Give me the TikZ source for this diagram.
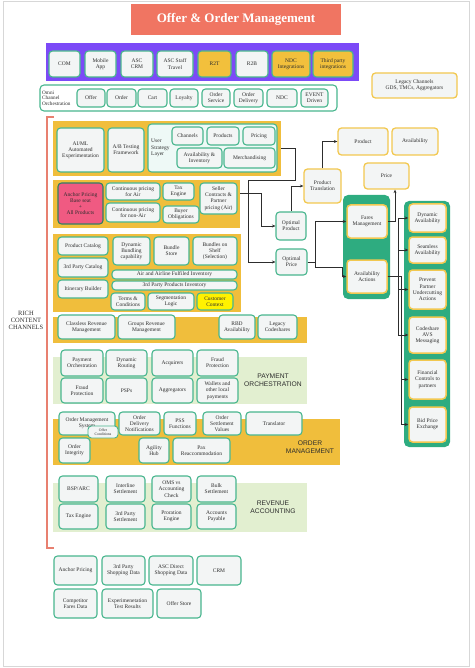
\documentclass[tikz,border=0pt]{standalone}
\usepackage{fontspec}
\setmainfont{Liberation Serif}
\newfontfamily\lsans{Liberation Sans}
\usetikzlibrary{arrows.meta}
\definecolor{gbord}{RGB}{72,182,142}
\definecolor{bfill}{RGB}{243,245,245}
\definecolor{orng}{RGB}{240,190,60}
\definecolor{lgreen}{RGB}{226,239,208}
\definecolor{purp}{RGB}{124,74,247}
\definecolor{titl}{RGB}{240,117,98}
\definecolor{ybord}{RGB}{242,200,80}
\definecolor{ygold}{RGB}{242,192,60}
\definecolor{pinkc}{RGB}{240,90,130}
\definecolor{dgreen}{RGB}{46,172,128}
\definecolor{brack}{RGB}{232,128,112}
\definecolor{txt}{RGB}{45,45,45}
\definecolor{frame}{RGB}{215,215,215}
\definecolor{mint}{RGB}{238,249,246}
\newcommand\Bx[7][box]{\node[#1,minimum width={#5-#3},minimum height={#6-#4}] (#2) at ({(#3+#5)/2},{(#4+#6)/2}) {#7};}
\tikzset{
  box/.style={draw=gbord, line width=1.1pt, fill=bfill, rounded corners=3.5pt, inner sep=0pt, align=center, font=\fontsize{5.5}{6.2}\selectfont, text=txt},
  ybox/.style={box, draw=ybord, line width=1.3pt},
  band/.style={draw=none, inner sep=0pt},
  lbl/.style={font=\lsans\fontsize{6.7}{8}\selectfont, text=txt, align=center},
  arr/.style={draw=txt, line width=0.6pt, -{Stealth[length=3.5pt,width=3pt]}},
}
\begin{document}
\begin{tikzpicture}[x=1pt,y=-1pt]
\useasboundingbox (0,0) rectangle (474,668);
\draw[frame, line width=1pt] (3,2) rectangle (469,666);
% title
\Bx[band,fill=titl,font=\bfseries\fontsize{13}{15}\selectfont,text=white]{title}{131}{4}{341}{35}{Offer \& Order Management}
% channels
\Bx[band,fill=purp]{chan}{46}{43}{359}{81}{}
\Bx{com}{49}{51}{80}{77}{COM}
\Bx{mob}{85}{51}{116}{77}{Mobile\\App}
\Bx{asccrm}{121}{51}{153}{77}{ASC\\CRM}
\Bx{ascst}{157}{51}{193}{77}{ASC Staff\\Travel}
\Bx[box,fill=ygold]{rtt}{198}{51}{231}{77}{R2T}
\Bx{rtb}{236}{51}{268}{77}{R2B}
\Bx[box,fill=ygold]{ndci}{272}{51}{310}{77}{NDC\\Integrations}
\Bx[box,fill=ygold]{tpi}{313}{51}{353}{77}{Third party\\integrations}
\Bx[ybox,fill=bfill]{legacy}{372}{73}{457}{98}{Legacy Channels\\GDS, TMCs, Aggregators}
% omni
\Bx[box,fill=white,rounded corners=4pt]{omni}{40}{85}{337}{111}{}
\node[anchor=west,align=left,font=\fontsize{5.2}{5.6}\selectfont,text=txt,inner sep=0pt] (omnit) at (42,98) {Omni\\Channel\\Orchestration};
\Bx{offer}{77}{89}{105}{107}{Offer}
\Bx{order}{107}{89}{136}{107}{Order}
\Bx{cart}{138}{89}{167}{107}{Cart}
\Bx{loyal}{170}{89}{198}{107}{Loyalty}
\Bx{osvc}{202}{89}{230}{107}{Order\\Service}
\Bx{odel}{234}{89}{263}{107}{Order\\Delivery}
\Bx{ndc}{267}{89}{297}{107}{NDC}
\Bx{event}{301}{89}{328}{107}{EVENT\\Driven}
% bracket
\draw[brack, line width=1.2pt] (54,117) -- (47,117) -- (47,548) -- (54,548);
\node[align=center,font=\fontsize{6.5}{7}\selectfont,text=txt,inner sep=0pt] (rcc) at (26,320) {RICH\\CONTENT\\CHANNELS};
% section 1
\Bx[band,fill=orng]{s1}{53}{121}{281}{176}{}
\Bx{aiml}{57}{128}{104}{172}{AI/ML\\Automated\\Experimentation}
\Bx{ab}{108}{128}{144}{172}{A/B Testing\\Framework}
\Bx[box,fill=mint]{usl}{148}{124}{277}{172}{}
\node[anchor=west,align=left,font=\fontsize{5.5}{6.5}\selectfont,text=txt,inner sep=0pt] (uslt) at (151,148) {User\\Strategy\\Layer};
\Bx{chn}{172}{127}{203}{145}{Channels}
\Bx{prd}{207}{127}{239}{145}{Products}
\Bx{prc}{243}{127}{275}{145}{Pricing}
\Bx{avi}{177}{148}{222}{168}{Availability \&\\Inventory}
\Bx{mer}{224}{148}{275}{168}{Merchandising}
% section 2
\Bx[band,fill=orng]{s2}{53}{180}{240}{228}{}
\Bx[box,fill=pinkc,draw=gbord!70!black]{anchor}{58}{183}{103}{224}{Anchor Pricing\\Base seat\\+\\All Products}
\Bx{cpa}{106}{183}{160}{200}{Continuous pricing\\for Air}
\Bx{cpn}{106}{203}{160}{222}{Continuous pricing\\for non-Air}
\Bx{tax}{163}{183}{194}{200}{Tax\\Engine}
\Bx{buyer}{163}{206}{199}{223}{Buyer\\Obligations}
\Bx{seller}{200}{183}{237}{214}{Seller\\Contracts \&\\Partner\\pricing (Air)}
% section 3
\Bx[band,fill=orng]{s3}{53}{234}{241}{312}{}
\Bx{pcat}{58}{237}{108}{255}{Product Catalog}
\Bx{tpcat}{58}{258}{108}{277}{3rd Party Catalog}
\Bx{itin}{58}{280}{108}{298}{Itinerary Builder}
\Bx{dbc}{113}{237}{150}{265}{Dynamic\\Bundling\\capability}
\Bx{bstore}{154}{237}{189}{265}{Bundle\\Store}
\Bx{bshelf}{193}{237}{237}{265}{Bundles on\\Shelf\\(Selection)}
\Bx{afi}{112}{270}{237}{279}{Air and Airline Fulfiled Inventory}
\Bx{tppi}{112}{281}{237}{290}{3rd Party Products Inventory}
\Bx{terms}{111}{293}{145}{310}{Terms \&\\Conditions}
\Bx{seg}{148}{293}{194}{310}{Segmentation\\Logic}
\Bx[box,fill=yellow]{cctx}{197}{293}{233}{310}{Customer\\Context}
% section 4
\Bx[band,fill=orng]{s4}{53}{317}{307}{343}{}
\Bx{crm1}{58}{315}{115}{339}{Classless Revenue\\Management}
\Bx{grm}{118}{315}{175}{339}{Groups Revenue\\Management}
\Bx{rbd}{219}{315}{255}{339}{RBD\\Availability}
\Bx{lcs}{258}{315}{297}{339}{Legacy\\Codeshares}
% payment
\Bx[band,fill=lgreen]{s5}{53}{357}{307}{404}{}
\node[lbl] (s5l) at (273,380) {PAYMENT\\ORCHESTRATION};
\Bx{payo}{61}{350}{103}{376}{Payment\\Orchestration}
\Bx{dynr}{106}{350}{147}{376}{Dynamic\\Routing}
\Bx{acq}{152}{350}{193}{376}{Acquirers}
\Bx{fraud1}{197}{350}{238}{376}{Fraud\\Protection}
\Bx{fraud2}{61}{378}{103}{403}{Fraud\\Protection}
\Bx{psp}{106}{378}{147}{403}{PSPs}
\Bx{aggr}{152}{378}{193}{403}{Aggregators}
\Bx{wallet}{197}{378}{238}{403}{Wallets and\\other local\\payments}
% order management
\Bx[band,fill=orng]{s6}{53}{419}{340}{465}{}
\node[lbl] (s6l) at (310,447) {ORDER\\MANAGEMENT};
\Bx{oms}{59}{412}{115}{435}{Order Management\\System}
\Bx[box,line width=0.9pt,font=\fontsize{3.8}{4.2}\selectfont]{offc}{88}{426}{118}{438}{Offer\\Conditions}
\Bx{odn}{119}{412}{160}{435}{Order\\Delivery\\Notifications}
\Bx{pss}{164}{412}{196}{435}{PSS\\Functions}
\Bx{osv}{203}{412}{241}{435}{Order\\Settlement\\Values}
\Bx{trans}{246}{412}{302}{435}{Translator}
\Bx{oint}{59}{438}{90}{463}{Order\\Integrity}
\Bx{agil}{139}{438}{169}{463}{Agility\\Hub}
\Bx{pax}{173}{438}{230}{463}{Pax\\Reaccommodation}
% revenue accounting
\Bx[band,fill=lgreen]{s7}{53}{483}{307}{532}{}
\node[lbl] (s7l) at (273,507) {REVENUE\\ACCOUNTING};
\Bx{bsp}{59}{476}{98}{502}{BSP/ARC}
\Bx{intl}{106}{476}{145}{502}{Interline\\Settlement}
\Bx{omsv}{152}{476}{191}{502}{OMS vs\\Accounting\\Check}
\Bx{bulk}{197}{476}{236}{502}{Bulk\\Settlement}
\Bx{taxe}{59}{504}{98}{529}{Tax Engine}
\Bx{tps}{106}{504}{145}{529}{3rd Party\\Settlement}
\Bx{pror}{152}{504}{191}{529}{Proration\\Engine}
\Bx{accp}{197}{504}{236}{529}{Accounts\\Payable}
% bottom data
\Bx{anp}{54}{556}{97}{585}{Anchor Pricing}
\Bx{tpsd}{102}{556}{145}{585}{3rd Party\\Shopping Data}
\Bx{ascd}{149}{556}{193}{585}{ASC Direct\\Shopping Data}
\Bx{crm}{197}{556}{241}{585}{CRM}
\Bx{cfd}{54}{589}{97}{618}{Competitor\\Fares Data}
\Bx{etr}{102}{589}{153}{618}{Experimenetation\\Test Results}
\Bx{ost}{157}{589}{201}{618}{Offer Store}
% right side
\Bx[ybox]{prod}{338}{128}{388}{155}{Product}
\Bx[ybox]{avail}{392}{128}{438}{155}{Availability}
\Bx[ybox]{pr}{364}{163}{409}{189}{Price}
\Bx[ybox]{pt}{304}{169}{341}{203}{Product\\Translation}
\Bx{opr}{276}{212}{306}{240}{Optimal\\Product}
\Bx{opp}{276}{249}{307}{275}{Optimal\\Price}
\Bx[band,fill=dgreen,rounded corners=5pt]{fa}{343}{195}{390}{299}{}
\Bx[ybox,line width=1.5pt]{fm}{347}{205}{387}{238}{Fares\\Management}
\Bx[ybox,line width=1.5pt]{aa}{347}{260}{387}{293}{Availability\\Actions}
\Bx[band,fill=dgreen,rounded corners=5pt]{rc}{404}{201}{450}{447}{}
\Bx[ybox,line width=1.5pt]{da}{409}{204}{446}{232}{Dynamic\\Availability}
\Bx[ybox,line width=1.5pt]{sa}{409}{237}{446}{263}{Seamless\\Availability}
\Bx[ybox,line width=1.5pt]{pp}{409}{270}{446}{309}{Prevent\\Partner\\Undercutting\\Actions}
\Bx[ybox,line width=1.5pt]{cs}{409}{317}{446}{353}{Codeshare\\AVS\\Messaging}
\Bx[ybox,line width=1.5pt]{fc}{409}{360}{446}{399}{Financial\\Controls to\\partners}
\Bx[ybox,line width=1.5pt]{bp}{409}{407}{446}{442}{Bid Price\\Exchange}
% connectors
\draw[arr] (s1.east) -- (295,148.5) -- (295,180) -- (248,180) |- (opp.west);
\draw[arr] ([yshift=11pt]s2.east) -- (261,193) |- (opr.west);
\draw[arr] (opr.north) |- (pt.west);
\draw[arr] (pt.north) |- (prod.west);
\draw[arr] (opp.east) -- (315,262) |- (fm.west);
\draw[arr] (opp.east) -- (315,262) -- (315,267) -- (342,267) |- (aa.west);
\draw[arr] (fm.east) -| ([xshift=8.5pt]pr.south);
\foreach \t in {da,sa,pp,cs} \draw[arr] (aa.east) -- (398,276.5) |- (\t.west);
\foreach \t in {fc,bp} \draw[arr] (aa.east) -- (401,276.5) |- (\t.west);
\end{tikzpicture}
\end{document}
